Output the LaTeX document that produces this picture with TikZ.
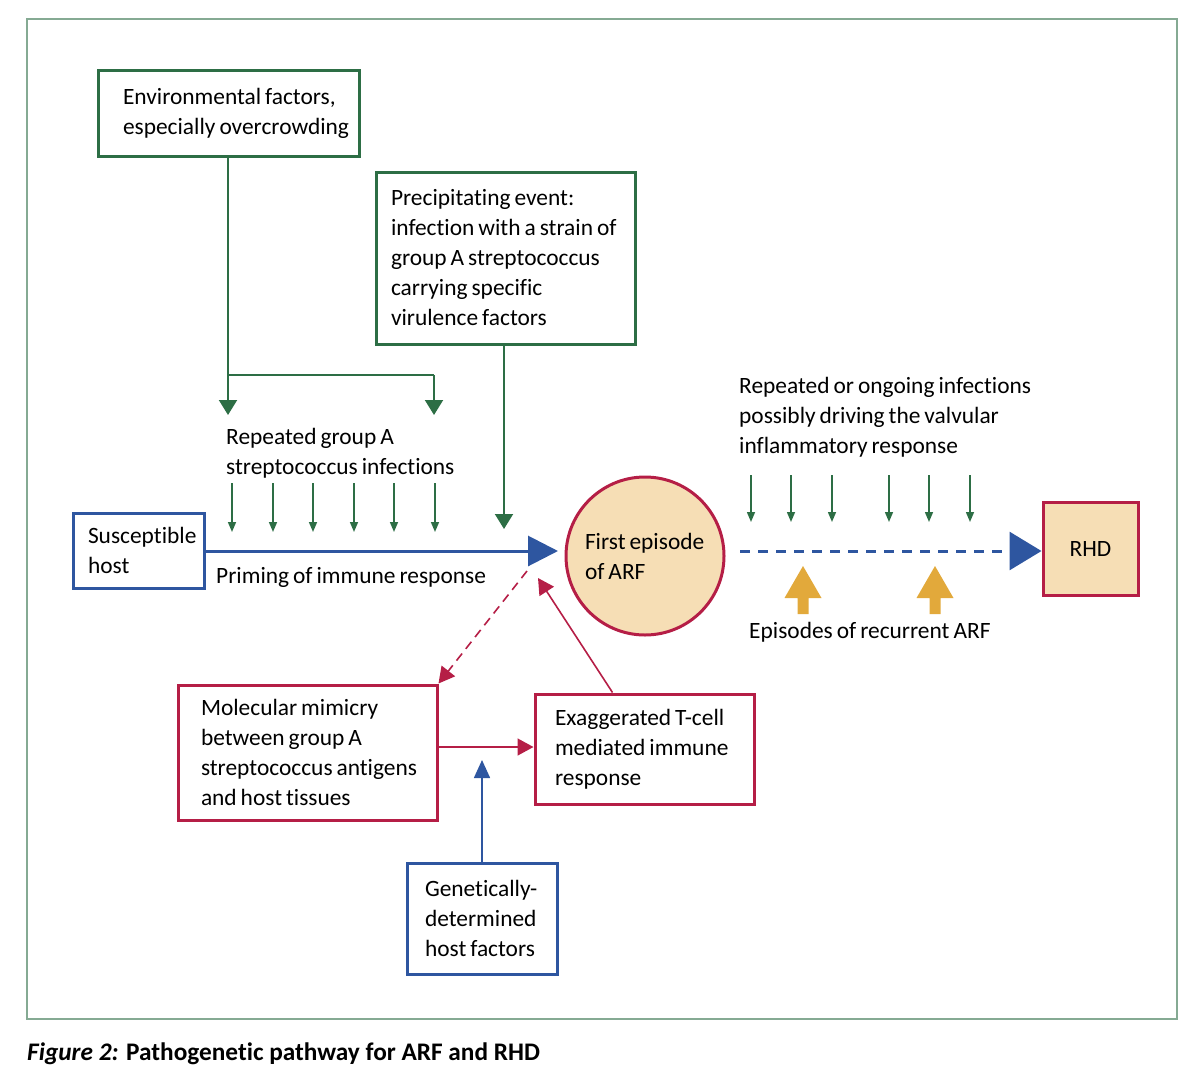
\documentclass[tikz,border=0pt]{standalone}
\usepackage{fontspec}
\setmainfont{Carlito}[Ligatures=NoCommon]
\usetikzlibrary{arrows.meta}
\definecolor{dgreen}{HTML}{2D6E45}
\definecolor{dblue}{HTML}{2E56A0}
\definecolor{dred}{HTML}{B51E46}
\definecolor{frame}{HTML}{85AA93}
\definecolor{beige}{HTML}{F6DEB5}
\definecolor{gold}{HTML}{E2A93B}
\newcommand{\tightsp}{\spaceskip=0.17em plus 0.05em minus 0.02em\relax}
\tikzset{
  x=1pt, y=-1pt,
  txt/.style={font=\fontsize{23.4}{30}\selectfont\tightsp},
  boxbase/.style={draw, line width=3pt, txt, align=left, inner sep=0pt},
  gbox/.style={boxbase, dgreen},
  bbox/.style={boxbase, dblue},
  rbox/.style={boxbase, dred},
  lab/.style={txt, anchor=west, align=left, inner sep=0pt},
  smallg/.style={dgreen, line width=1.5pt, -{Triangle[width=8pt,length=10pt]}},
  bigg/.style={dgreen, line width=2pt, -{Triangle[width=18pt,length=15pt]}},
  redarr/.style={dred, line width=1.6pt, -{Triangle[width=17pt,length=16pt]}},
}
\newcommand{\oneline}[1]{\mbox{\tightsp #1}}
\begin{document}
\begin{tikzpicture}
\useasboundingbox (0,0) rectangle (1200,1079);
\draw[frame, line width=1.5pt] (27,19) rectangle (1177,1019);

% boxes
\node[gbox, minimum width=261pt, minimum height=86pt, text width=211pt] (env) at (228.5,113)
  {\textcolor{black}{\oneline{Environmental factors,}\\\oneline{especially overcrowding}}};
\node[gbox, minimum width=259pt, minimum height=172pt, text width=229pt] (pre) at (505.5,258)
  {\textcolor{black}{\oneline{Precipitating event:}\\\oneline{infection with a strain of}\\\oneline{group A streptococcus}\\\oneline{carrying specific}\\\oneline{virulence factors}}};
\node[bbox, minimum width=131pt, minimum height=75pt, text width=101pt] (host) at (138.5,550.5)
  {\textcolor{black}{\oneline{Susceptible}\\\oneline{host}}};
\node[draw=dred, fill=beige, circle, line width=3pt, minimum size=158pt, txt, align=left, text width=120pt, inner sep=0pt] (arf) at (645,556)
  {\oneline{First episode}\\\oneline{of ARF}};
\node[draw=dred, fill=beige, line width=3pt, minimum width=95pt, minimum height=93pt, txt, inner sep=0pt] (rhd) at (1090.5,548.5) {RHD};
\node[rbox, minimum width=259pt, minimum height=135pt, text width=213pt] (mol) at (307.5,752.5)
  {\textcolor{black}{\oneline{Molecular mimicry}\\\oneline{between group A}\\\oneline{streptococcus antigens}\\\oneline{and host tissues}}};
\node[rbox, minimum width=219pt, minimum height=110pt, text width=179pt] (exa) at (644.5,749)
  {\textcolor{black}{\oneline{Exaggerated T-cell}\\\oneline{mediated immune}\\\oneline{response}}};
\node[bbox, minimum width=150pt, minimum height=111pt, text width=114pt] (gen) at (482,918.5)
  {\textcolor{black}{\oneline{Genetically-}\\\oneline{determined}\\\oneline{host factors}}};

% labels
\node[lab] (rep) at (226,453) {Repeated group A\\streptococcus infections};
\node[lab] (prim) at (216,577) {Priming of immune response};
\node[lab] (ong) at (739,417) {Repeated or ongoing infections\\possibly driving the valvular\\inflammatory response};
\node[lab] (epi) at (749,632) {Episodes of recurrent ARF};
\node[anchor=west, inner sep=0pt, font=\fontsize{25.3}{28}\selectfont\bfseries] (cap) at (27,1054)
  {\textit{Figure 2:} Pathogenetic pathway for ARF and RHD};

% environmental connector
\coordinate (b1) at (228,375);
\coordinate (b2) at (434,375);
\draw[dgreen, line width=2pt] (env.south -| b1) -- (b1) -- (b2);
\draw[bigg] (b1) -- (228,415);
\draw[bigg] (b2) -- (434,415);

% precipitating
\coordinate (tp) at (504,529);
\draw[bigg] (pre.south -| tp) -- (tp);

% small arrows left
\foreach \xx in {232,273,313,354,394,435}
  \draw[smallg] (\xx,483) -- (\xx,532);
% small arrows right
\foreach \xx in {751,791,832,889,929,970}
  \draw[smallg] (\xx,475) -- (\xx,522);

% main blue
\coordinate (mtip) at (558,551);
\draw[dblue, line width=3pt, -{Triangle[width=30pt,length=30pt]}] (host.east |- mtip) -- (mtip);
\coordinate (dstart) at (740,551);
\draw[dblue, line width=3pt, dash pattern=on 10pt off 8pt] (dstart) -- (1012,551);
\draw[dblue, line width=3pt, -{Triangle[width=38pt,length=32pt]}] (1011,551) -- (rhd.west |- dstart);

% yellow arrows
\foreach \xx in {803,935}
  \fill[gold] (\xx-5.5,614) -- (\xx-5.5,598) -- (\xx-18.5,598) -- (\xx,566) -- (\xx+18.5,598) -- (\xx+5.5,598) -- (\xx+5.5,614) -- cycle;

% red arrows
\coordinate (ds) at (527,571);
\draw[redarr, dashed, dash pattern=on 9pt off 6pt] (ds) -- (mol.north east);
\coordinate (rt) at (538,578);
\draw[redarr] ([xshift=-32pt]exa.north) -- (rt);
\coordinate (ya) at (0,747);
\draw[redarr] (mol.east |- ya) -- (exa.west |- ya);
\coordinate (gt) at (482,760);
\draw[dblue, line width=1.6pt, -{Triangle[width=16pt,length=18pt]}] (gen.north) -- (gt);
\end{tikzpicture}
\end{document}
